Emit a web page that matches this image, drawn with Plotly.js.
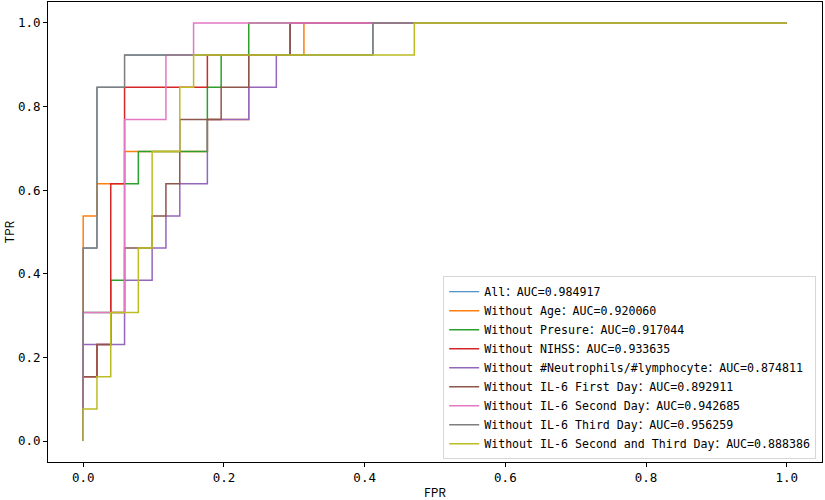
<!DOCTYPE html>
<html>
<head>
<meta charset="utf-8">
<script src="https://cdn.plot.ly/plotly-3.0.1.min.js"></script>
<style>html,body{margin:0;padding:0;background:#fff;}#chart{width:825px;height:500px;}</style>
</head>
<body>
<div id="chart"></div>
<script>
// Series names (legend labels)
const names = [
  "All：AUC=0.984917",
  "Without Age：AUC=0.920060",
  "Without Presure：AUC=0.917044",
  "Without NIHSS：AUC=0.933635",
  "Without #Neutrophils/#lymphocyte：AUC=0.874811",
  "Without IL-6 First Day：AUC=0.892911",
  "Without IL-6 Second Day：AUC=0.942685",
  "Without IL-6 Third Day：AUC=0.956259",
  "Without IL-6 Second and Third Day：AUC=0.888386"
];

// ROC corner points
const fprAll = [0, 0, 0.0196, 0.0196, 0.0588, 0.0588, 0.4118, 0.4118, 1];
const tprAll = [0, 0.4615, 0.4615, 0.8462, 0.8462, 0.9231, 0.9231, 1, 1];

const fprAge = [0, 0, 0.0196, 0.0196, 0.0588, 0.0588, 0.1765, 0.1765, 0.2353, 0.2353, 0.3137, 0.3137, 1];
const tprAge = [0, 0.5385, 0.5385, 0.6154, 0.6154, 0.6923, 0.6923, 0.7692, 0.7692, 0.9231, 0.9231, 1, 1];

const fprPresure = [0, 0, 0.0392, 0.0392, 0.0588, 0.0588, 0.0784, 0.0784, 0.1765, 0.1765, 0.1961, 0.1961, 0.2353, 0.2353, 1];
const tprPresure = [0, 0.3077, 0.3077, 0.3846, 0.3846, 0.6154, 0.6154, 0.6923, 0.6923, 0.8462, 0.8462, 0.9231, 0.9231, 1, 1];

const fprNIHSS = [0, 0, 0.0196, 0.0196, 0.0392, 0.0392, 0.0588, 0.0588, 0.1765, 0.1765, 0.2941, 0.2941, 1];
const tprNIHSS = [0, 0.1538, 0.1538, 0.2308, 0.2308, 0.6154, 0.6154, 0.8462, 0.8462, 0.9231, 0.9231, 1, 1];

const fprNeutro = [0, 0, 0.0588, 0.0588, 0.0980, 0.0980, 0.1176, 0.1176, 0.1373, 0.1373, 0.1765, 0.1765, 0.2353, 0.2353, 0.2745, 0.2745, 0.2941, 0.2941, 1];
const tprNeutro = [0, 0.2308, 0.2308, 0.3846, 0.3846, 0.4615, 0.4615, 0.5385, 0.5385, 0.6154, 0.6154, 0.7692, 0.7692, 0.8462, 0.8462, 0.9231, 0.9231, 1, 1];

const fprIL6First = [0, 0, 0.0196, 0.0196, 0.0392, 0.0392, 0.0588, 0.0588, 0.0980, 0.0980, 0.1176, 0.1176, 0.1373, 0.1373, 0.1961, 0.1961, 0.2353, 0.2353, 0.2941, 0.2941, 1];
const tprIL6First = [0, 0.1538, 0.1538, 0.2308, 0.2308, 0.3077, 0.3077, 0.4615, 0.4615, 0.5385, 0.5385, 0.6154, 0.6154, 0.7692, 0.7692, 0.8462, 0.8462, 0.9231, 0.9231, 1, 1];

const fprIL6Second = [0, 0, 0.0588, 0.0588, 0.1176, 0.1176, 0.1569, 0.1569, 1];
const tprIL6Second = [0, 0.3077, 0.3077, 0.7692, 0.7692, 0.9231, 0.9231, 1, 1];

const fprIL6Third = [0, 0, 0.0196, 0.0196, 0.0588, 0.0588, 0.4118, 0.4118, 1];
const tprIL6Third = [0, 0.4615, 0.4615, 0.8462, 0.8462, 0.9231, 0.9231, 1, 1];

const fprIL6SecThird = [0, 0, 0.0196, 0.0196, 0.0392, 0.0392, 0.0784, 0.0784, 0.0980, 0.0980, 0.1373, 0.1373, 0.1569, 0.1569, 0.4706, 0.4706, 1];
const tprIL6SecThird = [0, 0.0769, 0.0769, 0.1538, 0.1538, 0.3077, 0.3077, 0.4615, 0.4615, 0.6923, 0.6923, 0.8462, 0.8462, 0.9231, 0.9231, 1, 1];

const tickVals = [0, 0.2, 0.4, 0.6, 0.8, 1.0];
const tickText = ["0.0", "0.2", "0.4", "0.6", "0.8", "1.0"];

const colors = ["#1f77b4", "#ff7f0e", "#2ca02c", "#d62728", "#9467bd", "#8c564b", "#e377c2", "#7f7f7f", "#bcbd22"];
const widths = [1, 1.5, 1.5, 1.5, 1.5, 1.5, 1.5, 1.5, 1.5];

const xs = [fprAll, fprAge, fprPresure, fprNIHSS, fprNeutro, fprIL6First, fprIL6Second, fprIL6Third, fprIL6SecThird];
const ys = [tprAll, tprAge, tprPresure, tprNIHSS, tprNeutro, tprIL6First, tprIL6Second, tprIL6Third, tprIL6SecThird];

const MONO = '"DejaVu Sans Mono", "Noto Sans CJK SC", monospace';
const FONT = '"Noto Sans CJK SC", "DejaVu Sans", sans-serif';

const traces = names.map((n, i) => ({
  x: xs[i], y: ys[i], name: n, type: 'scatter', mode: 'lines',
  line: {color: colors[i], width: widths[i]}
}));

const axisCommon = {
  range: [-0.05, 1.05], tickvals: tickVals, ticktext: tickText,
  showgrid: false, zeroline: false, showline: true, mirror: true,
  linecolor: '#000', linewidth: 1, ticks: 'outside', ticklen: 4, tickwidth: 1, tickcolor: '#000',
  tickfont: {family: MONO, size: 12.5, color: '#000'}, automargin: false
};

const layout = {
  width: 825, height: 500,
  margin: {l: 48, r: 3, t: 2, b: 38},
  paper_bgcolor: '#fff', plot_bgcolor: '#fff',
  font: {family: MONO, color: '#000'},
  xaxis: Object.assign({}, axisCommon, {title: {text: 'FPR', font: {family: FONT, size: 12, color: '#000'}}}),
  yaxis: Object.assign({}, axisCommon, {title: {text: 'TPR', font: {family: FONT, size: 12, color: '#000'}}}),
  showlegend: true,
  legend: {
    x: 0.9925, y: 0.006, xanchor: 'right', yanchor: 'bottom',
    bgcolor: 'rgba(255,255,255,0.8)', bordercolor: '#d6d6d6', borderwidth: 1,
    font: {family: MONO, size: 11.6, color: '#000'}
  }
};

Plotly.newPlot('chart', traces, layout, {displayModeBar: false, staticPlot: true});
</script>
</body>
</html>
